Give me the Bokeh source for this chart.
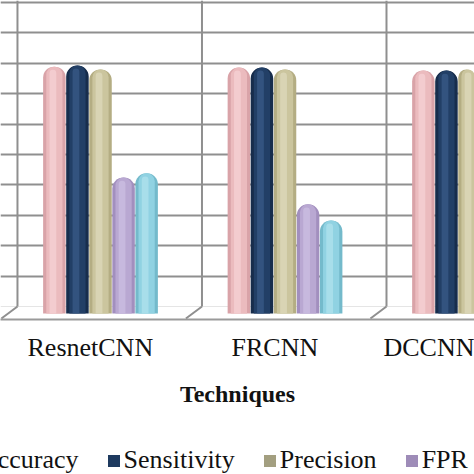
from bokeh.plotting import figure
from bokeh.layouts import column
from bokeh.models import Range1d, FixedTicker, Grid, Legend, LegendItem, ColumnDataSource
from bokeh.embed import file_html
from bokeh.resources import INLINE

techniques = ["ResnetCNN", "FRCNN", "DCCNN"]
metrics = ["Accuracy", "Sensitivity", "Precision", "FPR", "FNR"]
accuracy = [78.9, 78.6, 77.6]
sensitivity = [79.3, 78.6, 77.6]
precision = [78.0, 78.0, 78.0]
fpr = [42.4, 33.6, 30.0]
fnr = [43.8, 28.3, 25.0]
grid_values = [10, 20, 30, 40, 50, 60, 70, 80, 90, 100]

series = [accuracy, sensitivity, precision, fpr, fnr]
base_colors = ["#EBBBBE", "#223F66", "#CBC59E", "#B9A8D2", "#90D2E2"]
dark_colors = ["#D9A3A8", "#172D4C", "#B4AD83", "#A28FBE", "#74BACB"]
light_colors = ["#F6D3D5", "#3A5C8A", "#DEDABD", "#CDC0E2", "#B2E3EE"]
legend_colors = ["#E0AEB2", "#1E3A5F", "#A39F80", "#9E8CB8", "#86C8D8"]

Y0, Y1 = -4.28, 100.66
bar_base = -2.3
bar_w = 0.122
step = 0.125
H2 = 44

p = figure(width=474, height=474 - H2, output_backend="svg", toolbar_location=None,
           x_range=Range1d(-0.542, 2.027), y_range=Range1d(Y0, Y1),
           y_axis_location=None, min_border_left=0, min_border_right=0,
           min_border_top=0, min_border_bottom=474 - H2 - 319)
p.outline_line_color = None
p.background_fill_color = "white"
p.xgrid.visible = False

grid = Grid(dimension=1, ticker=FixedTicker(ticks=grid_values),
            grid_line_color="#8F8F8F", grid_line_width=2)
p.add_layout(grid)

# back-wall vertical separators and floor diagonals
bounds = [i - 0.45 for i in range(len(techniques))]
p.segment(x0=bounds, y0=[0] * len(bounds), x1=bounds, y1=[Y1] * len(bounds),
          line_color="#8F8F8F", line_width=2)
p.segment(x0=[b - 0.087 for b in bounds], y0=[-3.95] * len(bounds), x1=bounds,
          y1=[0] * len(bounds), line_color="#8F8F8F", line_width=2)

for k, vals in enumerate(series):
    xs = [i + (k - 2) * step for i in range(len(techniques))]
    src = ColumnDataSource(dict(x=xs, top=vals))
    p.vbar(x="x", top="top", bottom=bar_base, width=bar_w, source=src,
           fill_color=dark_colors[k], line_color=None, border_radius=(11, 11, 0, 0))
    p.vbar(x="x", top="top", bottom=bar_base, width=bar_w * 0.72, source=src,
           fill_color=base_colors[k], line_color=None, border_radius=(8, 8, 0, 0))
    src2 = ColumnDataSource(dict(x=[x - 0.008 for x in xs], top=[v - 1.0 for v in vals]))
    p.vbar(x="x", top="top", bottom=bar_base, width=bar_w * 0.3, source=src2,
           fill_color=light_colors[k], fill_alpha=0.7, line_color=None,
           border_radius=(4, 4, 0, 0))

ticks = [i - 0.055 for i in range(len(techniques))]
ax = p.xaxis[0]
ax.ticker = FixedTicker(ticks=ticks)
ax.major_label_overrides = {t: n for t, n in zip(ticks, techniques)}
ax.major_tick_line_color = None
ax.minor_tick_line_color = None
ax.axis_line_color = "#9A9A9A"
ax.axis_line_width = 2
ax.major_label_text_font = "Liberation Serif"
ax.major_label_text_font_size = "26px"
ax.major_label_text_color = "#111111"
ax.major_label_standoff = 7
ax.axis_label = "Techniques"
ax.axis_label_text_font = "Liberation Serif"
ax.axis_label_text_font_size = "24px"
ax.axis_label_text_font_style = "bold"
ax.axis_label_text_color = "#111111"
ax.axis_label_standoff = 16

# legend strip (swatch renderers sit outside the visible range; only their legend glyphs show)
q = figure(width=474, height=H2, output_backend="svg", toolbar_location=None,
           x_range=Range1d(0, 1), y_range=Range1d(0, 1),
           x_axis_location=None, y_axis_location=None,
           min_border_left=0, min_border_right=0, min_border_top=0, min_border_bottom=0)
q.outline_line_color = None
q.xgrid.visible = False
q.ygrid.visible = False

items = []
for k, name in enumerate(metrics):
    r = q.rect(x=[-5], y=[-5], width=0.1, height=0.1, fill_color=legend_colors[k],
               line_color=None)
    items.append(LegendItem(label=name, renderers=[r]))

legend = Legend(items=items, orientation="horizontal", location=(-39, -1),
                glyph_width=15, glyph_height=15, label_standoff=3, spacing=27,
                padding=0, margin=0, border_line_color=None, background_fill_alpha=0,
                label_text_font="Liberation Serif", label_text_font_size="26px",
                label_text_color="#111111")
q.add_layout(legend, "center")

layout = column(p, q, spacing=0)
open("out.html", "w").write(file_html(layout, INLINE))
